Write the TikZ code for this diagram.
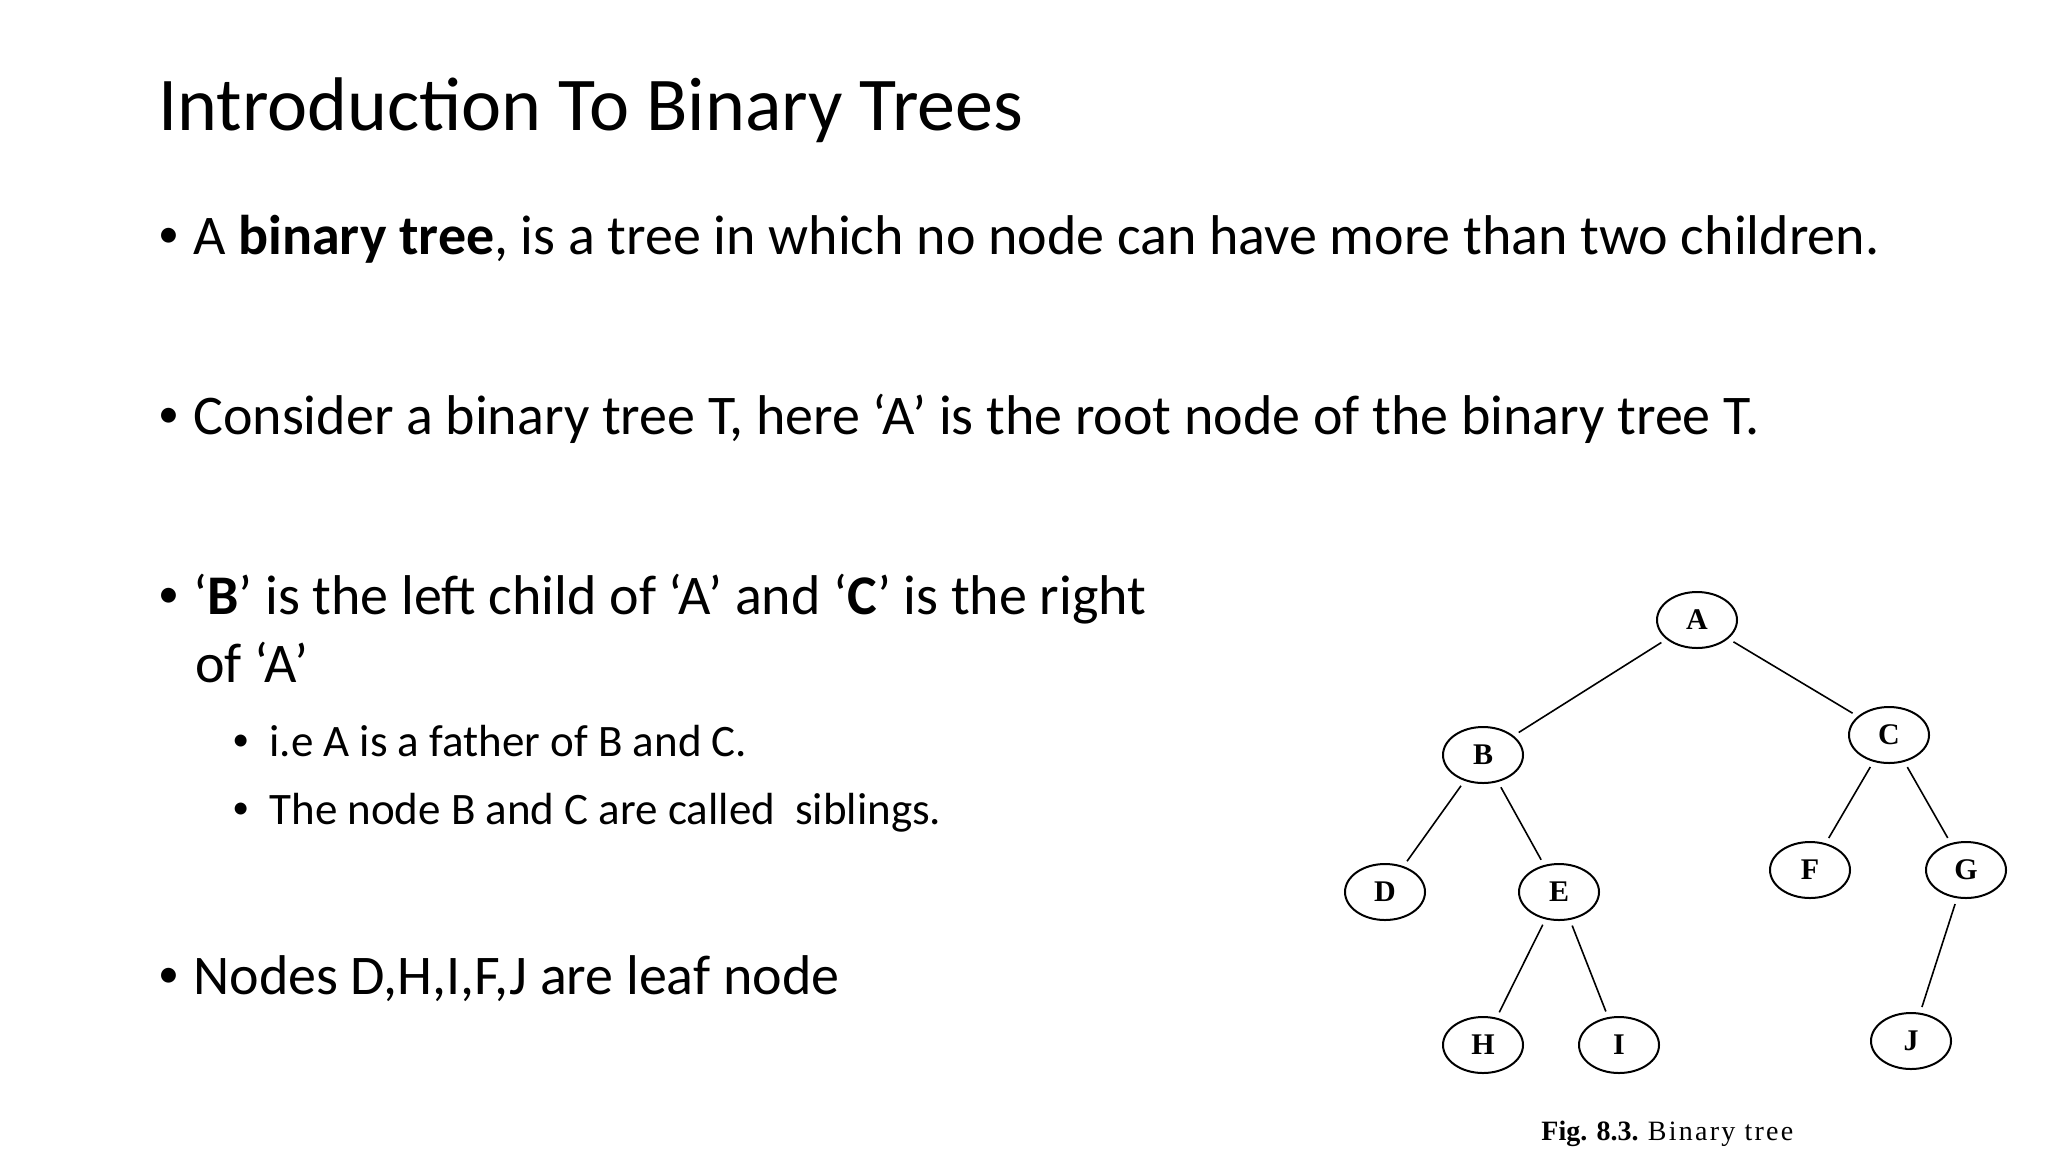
\documentclass[tikz,border=0pt]{standalone}
\usepackage{fontspec}
\setmainfont{Carlito}
\newfontfamily\serifb{Liberation Serif}
\usetikzlibrary{shapes.geometric}
\newcommand{\mybul}{\raisebox{0.12em}{\scalebox{0.75}{•}}}
\begin{document}
\begin{tikzpicture}[x=0.5pt,y=-0.5pt,
  txt/.style={anchor=base west,inner sep=0pt,font=\fontsize{28}{34}\selectfont},
  sub/.style={anchor=base west,inner sep=0pt,font=\fontsize{22.5}{27}\selectfont},
  tn/.style={draw,ellipse,line width=1pt,minimum width=40pt,minimum height=28pt,inner sep=0pt,font=\serifb\bfseries\fontsize{15}{15}\selectfont},
  ed/.style={line width=0.8pt,shorten <=3pt,shorten >=3pt}]
\useasboundingbox (0,0) rectangle (2048,1152);
\node[anchor=base west,inner sep=0pt,font=\fontsize{38}{46}\selectfont] (title) at (158,130) {Introduction To Binary Trees};
\node[txt] (b1) at (158,254) {\mybul\hspace{0.25em}A \textbf{binary tree}, is a tree in which no node can have more than two children.};
\node[txt] (b2) at (158,434) {\mybul\hspace{0.25em}Consider a binary tree T, here ‘A’ is the root node of the binary tree T.};
\node[txt] (b3) at (158,614) {\mybul\hspace{0.25em}‘\textbf{B}’ is the left child of ‘A’ and ‘\textbf{C}’ is the right};
\node[txt] (b3b) at (195,682) {of ‘A’};
\node[sub] (s1) at (232,756) {\mybul\hspace{0.45em}i.e A is a father of B and C.};
\node[sub] (s2) at (232,824) {\mybul\hspace{0.45em}The node B and C are called\ \ siblings.};
\node[txt] (b4) at (158,994) {\mybul\hspace{0.25em}Nodes D,H,I,F,J are leaf node};
\begin{scope}[shift={(-14,-8)}]
\node[tn] (A) at (1711,628) {A};
\node[tn] (B) at (1497,763) {B};
\node[tn] (C) at (1903,743) {C};
\node[tn] (D) at (1399,900) {D};
\node[tn] (E) at (1573,900) {E};
\node[tn] (F) at (1824,878) {F};
\node[tn] (G) at (1980,878) {G};
\node[tn] (H) at (1497,1053) {H};
\node[tn] (I) at (1633,1053) {I};
\node[tn] (J) at (1925,1049) {J};
\end{scope}
\draw[ed] (A)--(B); \draw[ed] (A)--(C);
\draw[ed] (B)--(D); \draw[ed] (B)--(E);
\draw[ed] (C)--(F); \draw[ed] (C)--(G);
\draw[ed] (E)--(H); \draw[ed] (E)--(I);
\draw[ed] (G)--(J);
\node[anchor=base west,inner sep=0pt,font=\serifb\fontsize{14}{14}\selectfont] (cap) at (1541,1140) {\textbf{Fig. 8.3.} {\addfontfeatures{LetterSpace=8}Binary tree}};
\end{tikzpicture}
\end{document}
